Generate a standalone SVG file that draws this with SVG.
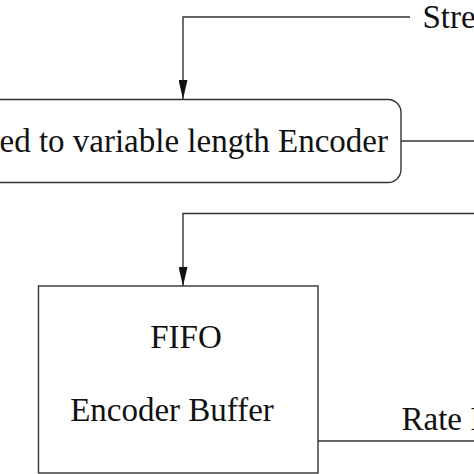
<svg xmlns="http://www.w3.org/2000/svg" width="474" height="474" viewBox="0 0 474 474">
<style>
.ln{fill:none;stroke:#333;stroke-width:1.4}
.bx{fill:#fff;stroke:#333;stroke-width:1.4}
.t{font-family:"Liberation Serif","Times New Roman",serif;font-size:33px;fill:#111}
</style>
<defs>
<marker id="ah" markerWidth="19" markerHeight="9" refX="19" refY="4.5" orient="auto" markerUnits="userSpaceOnUse" viewBox="0 0 19 9">
<path d="M0,0 L19,4.5 L0,9 Z" fill="#111"/>
</marker>
</defs>
<rect width="474" height="474" fill="#fff"/>
<g id="connectors">
<path class="ln" d="M410,17 H183 V99" marker-end="url(#ah)"/>
<path class="ln" d="M401,141 H474"/>
<path class="ln" d="M474,213.5 H183 V286" marker-end="url(#ah)"/>
<path class="ln" d="M318,441 H474"/>
</g>
<g id="encoder">
<rect class="bx" x="-20" y="99.5" width="421" height="83" rx="13"/>
<text class="t" x="388" y="152" text-anchor="end">ed to variable length Encoder</text>
</g>
<g id="fifo">
<rect class="bx" x="38.5" y="286" width="279.5" height="187"/>
<text class="t" x="186" y="348" text-anchor="middle">FIFO</text>
<text class="t" x="172" y="420.5" text-anchor="middle">Encoder Buffer</text>
</g>
<g id="labels">
<text class="t" x="422.5" y="28">Stre</text>
<text class="t" x="401.5" y="430">Rate I</text>
</g>
</svg>
